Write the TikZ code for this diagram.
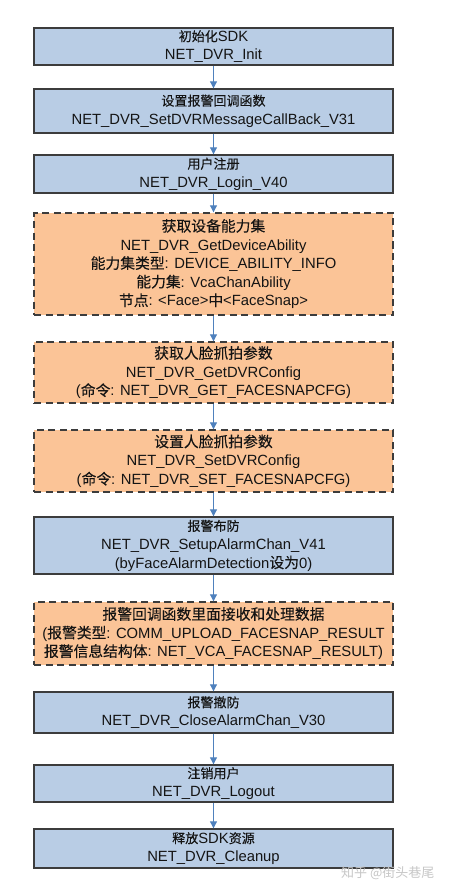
\documentclass[tikz,border=0pt]{standalone}
\usepackage{fontspec}
\setmainfont{Liberation Sans}
\newfontfamily\cjk[FakeBold=0.12]{Noto Sans CJK SC}
\newfontfamily\cjks[Scale=0.88,FakeBold=0.12]{Noto Sans CJK SC}
\newfontfamily\cjkw{Noto Sans CJK SC}
\newcommand\zh[1]{{\cjk #1}}
\newcommand\zhs[1]{{\cjks #1}}
\usetikzlibrary{arrows.meta}
\definecolor{bluefill}{HTML}{B9CDE5}
\definecolor{orangefill}{HTML}{FBC497}
\definecolor{boxline}{HTML}{3C3C3C}
\definecolor{arrowblue}{HTML}{4F81BD}
\definecolor{txt}{HTML}{141414}
\tikzset{
  box/.style={rectangle, draw=boxline, line width=1.4pt, minimum width=359pt,
    inner sep=0pt, align=center, text=txt,
    font={\fontsize{14.8pt}{18.6pt}\selectfont}},
  bluebox/.style={box, fill=bluefill},
  orangebox/.style={box, fill=orangefill, dash pattern=on 7pt off 4.5pt},
  flow/.style={draw=arrowblue, line width=1pt, -{Triangle[width=7pt,length=7pt]}}
}
\begin{document}
\begin{tikzpicture}
\useasboundingbox (0,0) rectangle (449pt,-893pt);
\fill[white] (0,0) rectangle (449pt,-893pt);
\node[bluebox, minimum height=37pt] (b1) at (213.5pt,-46.5pt)
  {\zhs{初始化}SDK\\NET\_DVR\_Init};
\node[bluebox, minimum height=44pt] (b2) at (213.5pt,-111pt)
  {\zhs{设置报警回调函数}\\NET\_DVR\_SetDVRMessageCallBack\_V31};
\node[bluebox, minimum height=38pt] (b3) at (213.5pt,-174pt)
  {\zhs{用户注册}\\NET\_DVR\_Login\_V40};
\node[orangebox, minimum height=102pt] (b4) at (213.5pt,-264pt)
  {\zh{获取设备能力集}\\NET\_DVR\_GetDeviceAbility\\\zh{能力集类型}: DEVICE\_ABILITY\_INFO\\\zh{能力集}: VcaChanAbility\\\zh{节点}: <Face>\zh{中}<FaceSnap>};
\node[orangebox, minimum height=61pt] (b5) at (213.5pt,-372.5pt)
  {\zh{获取人脸抓拍参数}\\NET\_DVR\_GetDVRConfig\\(\zh{命令}: NET\_DVR\_GET\_FACESNAPCFG)};
\node[orangebox, minimum height=62pt] (b6) at (213.5pt,-461pt)
  {\zh{设置人脸抓拍参数}\\NET\_DVR\_SetDVRConfig\\(\zh{命令}: NET\_DVR\_SET\_FACESNAPCFG)};
\node[bluebox, minimum height=57pt] (b7) at (213.5pt,-545.5pt)
  {\zhs{报警布防}\\NET\_DVR\_SetupAlarmChan\_V41\\(byFaceAlarmDetection\zh{设为}0)};
\node[orangebox, minimum height=63pt] (b8) at (213.5pt,-633.5pt)
  {\zh{报警回调函数里面接收和处理数据}\\(\zh{报警类型}: COMM\_UPLOAD\_FACESNAP\_RESULT\\\zh{报警信息结构体}: NET\_VCA\_FACESNAP\_RESULT)};
\node[bluebox, minimum height=41pt] (b9) at (213.5pt,-712.5pt)
  {\zhs{报警撤防}\\NET\_DVR\_CloseAlarmChan\_V30};
\node[bluebox, minimum height=37pt] (b10) at (213.5pt,-783.5pt)
  {\zhs{注销用户}\\NET\_DVR\_Logout};
\node[bluebox, minimum height=39pt] (b11) at (213.5pt,-848.5pt)
  {\zhs{释放}SDK\zhs{资源}\\NET\_DVR\_Cleanup};
\foreach \a/\b in {b1/b2,b2/b3,b3/b4,b4/b5,b5/b6,b6/b7,b7/b8,b8/b9,b9/b10,b10/b11}
  \draw[flow] (\a.south) -- (\b.north);
\node[anchor=west, inner sep=0pt, text=black!22, font={\cjkw\fontsize{13pt}{15pt}\selectfont}] (wm) at (341pt,-873pt) {知乎 @街头巷尾};
\end{tikzpicture}
\end{document}
